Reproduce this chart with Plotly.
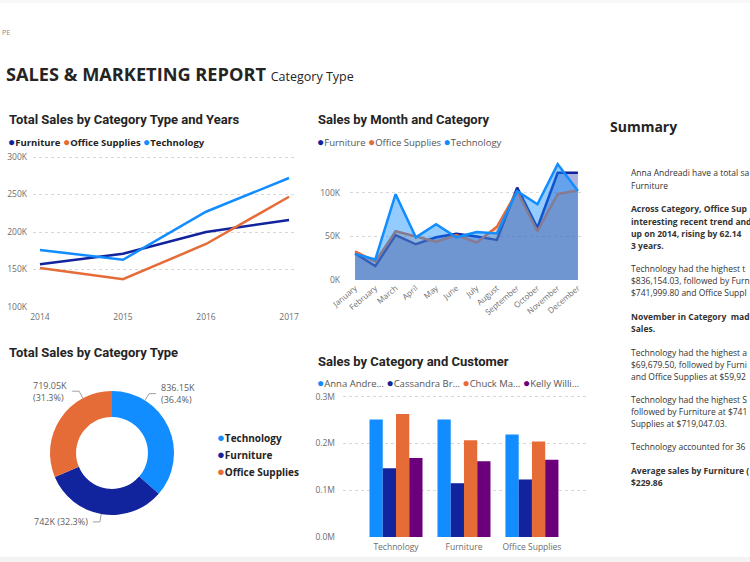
import math
import plotly.graph_objects as go

W, H = 750, 562


def px(x):
    return x / W


def py(y):
    return 1 - y / H


# ---------------- data ----------------
years = [2014, 2015, 2016, 2017]
year_furniture = [157000, 171000, 200000, 216000]
year_office = [152000, 137000, 184000, 247000]
year_technology = [176000, 163000, 227000, 272000]

months = ["January", "February", "March", "April", "May", "June", "July",
          "August", "September", "October", "November", "December"]
month_furniture = [30500, 16000, 51500, 41000, 49000, 53000, 50000, 46000,
                   106000, 60000, 123000, 123000]
month_office = [33000, 21000, 56000, 50000, 44000, 51500, 43000, 61000,
                102000, 56000, 98500, 103000]
month_technology = [30000, 23600, 98500, 49000, 64000, 49000, 55000, 53500,
                    102000, 87000, 133000, 102000]

pie_labels = ["Technology", "Furniture", "Office Supplies"]
pie_values = [836150, 742000, 719050]

bar_categories = ["Technology", "Furniture", "Office Supplies"]
customer_labels = ["Anna Andre…", "Cassandra Br…", "Chuck Ma…", "Kelly Willi…"]
sales_anna = [251000, 251000, 219000]
sales_cassandra = [147000, 115000, 123000]
sales_chuck = [263000, 207000, 204000]
sales_kelly = [169000, 162000, 165000]

line_ticks = [100000, 150000, 200000, 250000, 300000]
area_ticks = [0, 50000, 100000]
bar_ticks = [0, 100000, 200000, 300000]

# summary panel text, as visible in the (right-edge cropped) panel
summary_paragraphs = [
    (["Anna Andreadi have a total sa", "Furniture"], False),
    (["Across Category, Office Sup", "interesting recent trend and",
      "up on 2014, rising by 62.14", "3 years."], True),
    (["Technology had the highest t", "$836,154.03, followed by Furn",
      "$741,999.80 and Office Suppl"], False),
    (["November in Category  mad", "Sales."], True),
    (["Technology had the highest a", "$69,679.50, followed by Furni",
      "and Office Supplies at $59,92"], False),
    (["Technology had the highest S", "followed by Furniture at $741",
      "Supplies at $719,047.03."], False),
    (["Technology accounted for 36"], False),
    (["Average sales by Furniture (", "$229.86"], True),
]

# ---------------- styles ----------------
C_FUR = "#12239E"
C_OFF = "#E66C37"
C_TEC = "#118DFF"
C_KEL = "#6B007B"
TXT = "#252423"
TICK = "#6E6E6E"
TITLE_FONT = "Roboto"
BODY_FONT = "Open Sans"
SUM_FONT = "Open Sans"

cat_colors = {"Furniture": C_FUR, "Office Supplies": C_OFF, "Technology": C_TEC}

fig = go.Figure()

# ---- line chart ----
for name, vals in [("Furniture", year_furniture), ("Office Supplies", year_office),
                   ("Technology", year_technology)]:
    fig.add_trace(go.Scatter(x=years, y=vals, mode="lines", name=name,
                             line=dict(color=cat_colors[name], width=2.5),
                             xaxis="x", yaxis="y", showlegend=False))

# ---- area chart ----
fills = {"Furniture": "rgba(18,35,158,0.35)", "Office Supplies": "rgba(230,108,55,0.30)",
         "Technology": "rgba(17,141,255,0.45)"}
midx = list(range(len(months)))
for name, vals in [("Furniture", month_furniture), ("Office Supplies", month_office),
                   ("Technology", month_technology)]:
    fig.add_trace(go.Scatter(x=midx, y=vals, mode="lines", name=name, fill="tozeroy",
                             fillcolor=fills[name],
                             line=dict(color=cat_colors[name], width=2.5),
                             xaxis="x2", yaxis="y2", showlegend=False))

# ---- donut ----
pcx, pcy, prad = 112, 453, 62
fig.add_trace(go.Pie(labels=pie_labels, values=pie_values, hole=0.58, sort=False,
                     direction="clockwise", rotation=0, textinfo="none",
                     marker=dict(colors=[cat_colors[l] for l in pie_labels],
                                 line=dict(width=0)),
                     domain=dict(x=[px(pcx - prad), px(pcx + prad)],
                                 y=[py(pcy + prad), py(pcy - prad)]),
                     showlegend=False))

# ---- bar chart ----
for name, vals, col in [(customer_labels[0], sales_anna, C_TEC),
                        (customer_labels[1], sales_cassandra, C_FUR),
                        (customer_labels[2], sales_chuck, C_OFF),
                        (customer_labels[3], sales_kelly, C_KEL)]:
    fig.add_trace(go.Bar(x=bar_categories, y=vals, name=name, marker_color=col,
                         marker_line_width=0, xaxis="x3", yaxis="y3", showlegend=False))

ann = []
shapes = []


def text(x, y, t, size, color=TXT, family=BODY_FONT, xanchor="left", yanchor="middle",
         align="left"):
    ann.append(dict(x=px(x), y=py(y), xref="paper", yref="paper", text=t, showarrow=False,
                    xanchor=xanchor, yanchor=yanchor, align=align,
                    font=dict(size=size, color=color, family=family)))


def dot(c, size):
    return f"<span style='color:{c};font-size:{size}px'>●</span>"


def legend_line(names, colors, bold, dsize):
    parts = []
    for n, c in zip(names, colors):
        lab = f"<b>{n}</b>" if bold else n
        parts.append(f"{dot(c, dsize)}{lab}")
    return " ".join(parts)


# header
text(0, 33, "PE", 7, color="#888888")
text(4, 74, "<b>SALES & MARKETING REPORT</b> <span style='font-size:12.5px'>Category Type</span>",
     18.2, family=BODY_FONT)

# titles
text(7, 119, "<b>Total Sales by Category Type and Years</b>", 13, family=TITLE_FONT)
text(316, 119, "<b>Sales by Month and Category</b>", 13, family=TITLE_FONT)
text(7, 352, "<b>Total Sales by Category Type</b>", 13, family=TITLE_FONT)
text(316, 361, "<b>Sales by Category and Customer</b>", 13, family=TITLE_FONT)
text(608, 126, "<b>Summary</b>", 14, family=BODY_FONT)

# legends
names3 = ["Furniture", "Office Supplies", "Technology"]
text(6, 141, legend_line(names3, [cat_colors[n] for n in names3], True, 12), 9.5,
     family=BODY_FONT)
text(315, 141, legend_line(names3, [cat_colors[n] for n in names3], False, 12), 9.5,
     color="#555555", family=BODY_FONT)
text(315, 382, legend_line(customer_labels, [C_TEC, C_FUR, C_OFF, C_KEL], False, 12), 9.5,
     color="#555555", family=BODY_FONT)
for i, lab in enumerate(pie_labels):
    text(215, 437 + 17 * i, f"{dot(cat_colors[lab], 13)}<b>{lab}</b>", 10, family=BODY_FONT)

# donut labels with leader lines
total = sum(pie_values)
label_angle = {"Technology": 32, "Furniture": 190, "Office Supplies": 332}
for lab, v in zip(pie_labels, pie_values):
    k = v / 1000
    ks = (f"{k:.2f}".rstrip("0").rstrip(".")) + "K"
    pct = f"({v / total * 100:.1f}%)"
    a = math.radians(label_angle[lab])
    x0, y0 = pcx + prad * math.sin(a), pcy - prad * math.cos(a)
    x1, y1 = pcx + (prad + 8) * math.sin(a), pcy - (prad + 8) * math.cos(a)
    side = 1 if math.sin(a) > 0 else -1
    x2 = x1 + side * 7
    shapes.append(dict(type="path", xref="paper", yref="paper",
                       path=f"M {px(x0)},{py(y0)} L {px(x1)},{py(y1)} L {px(x2)},{py(y1)}",
                       line=dict(color="#A0A0A0", width=1)))
    t = f"{ks} {pct}" if lab == "Furniture" else f"{ks}<br>{pct}"
    if side > 0:
        text(x2 + 3, y1, t, 9, color="#605E5C", xanchor="left")
    else:
        text(x2 - 3, y1, t, 9, color="#605E5C", xanchor="right", align="left")

# summary: one annotation per line, 12 px line pitch
para_y = [173, 209, 268, 316, 352, 399, 446, 470]
for (lines, b), yy in zip(summary_paragraphs, para_y):
    for i, ln in enumerate(lines):
        text(629, yy + 12 * i, f"<b>{ln}</b>" if b else ln, 8.5, color="#333333",
             family=SUM_FONT)

# frame bands
shapes.append(dict(type="rect", xref="paper", yref="paper", x0=0, x1=1, y0=py(562), y1=py(557),
                   fillcolor="#F3F2F1", line=dict(width=0), layer="below"))
shapes.append(dict(type="rect", xref="paper", yref="paper", x0=0, x1=1, y0=py(3), y1=1,
                   fillcolor="#F8F8F8", line=dict(width=0), layer="below"))

tickfont = dict(size=8.5, color=TICK, family=BODY_FONT)
grid = dict(showgrid=True, gridcolor="#D8D8D8", griddash="dot", gridwidth=1)
common = dict(automargin=False, fixedrange=True)

fig.update_layout(
    width=W, height=H, margin=dict(l=0, r=0, t=0, b=0, pad=0, autoexpand=False),
    paper_bgcolor="white", plot_bgcolor="rgba(0,0,0,0)", showlegend=False,
    bargap=0.22, bargroupgap=0,
    xaxis=dict(domain=[px(33), px(297)], range=[2013.916, 2017.096], tickvals=years,
               ticktext=[str(y) for y in years], showgrid=False, zeroline=False,
               tickfont=tickfont, anchor="y", ticklabelstandoff=3, **common),
    yaxis=dict(domain=[py(307), py(155.5)], range=[100000, 302000], tickvals=line_ticks,
               ticktext=[f"{int(v / 1000)}K" for v in line_ticks], zeroline=False,
               tickfont=tickfont, anchor="x", ticklabelstandoff=5, **grid, **common),
    xaxis2=dict(domain=[px(350), px(583)], range=[-0.25, 11.25], tickvals=midx,
                ticktext=months, tickangle=-40, showgrid=False, zeroline=False,
                tickfont=dict(size=8, color=TICK, family=BODY_FONT), anchor="y2",
                ticklabelstandoff=1, **common),
    yaxis2=dict(domain=[py(280), py(158)], range=[0, 140000], tickvals=area_ticks,
                ticktext=[f"{int(v / 1000)}K" for v in area_ticks], zeroline=False,
                tickfont=tickfont, anchor="x2", ticklabelstandoff=9, **grid, **common),
    xaxis3=dict(domain=[px(343), px(587)], range=[-0.78, 2.81], showgrid=False,
                zeroline=False, tickfont=tickfont, anchor="y3", type="category",
                ticklabelstandoff=3, **common),
    yaxis3=dict(domain=[py(537), py(392)], range=[0, 310000], tickvals=bar_ticks,
                ticktext=[f"{v / 1e6:.1f}M" for v in bar_ticks], zeroline=False,
                tickfont=tickfont, anchor="x3", ticklabelstandoff=7, **grid, **common),
    annotations=ann, shapes=shapes,
)

fig.write_html("out.html")
